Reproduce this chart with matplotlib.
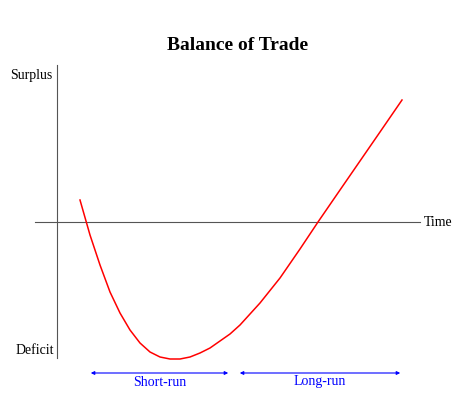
import matplotlib
matplotlib.use("Agg")
import matplotlib.pyplot as plt

# J-curve (pixel space: x right, y down)
curve_x = [80, 90, 100, 110, 120, 130, 140, 150, 160, 170, 180, 190, 200, 210, 220, 230, 240, 260, 280, 300, 318, 340, 360, 380, 402]
curve_y = [200, 235, 265, 292, 313, 330, 343, 352, 357, 359, 359, 357, 353, 348, 341, 334, 325, 303, 278, 249, 222, 190, 161, 132, 100]
labels = ["Surplus", "Deficit", "Time", "Short-run", "Long-run"]

plt.rcParams['font.family'] = ['Liberation Serif', 'DejaVu Serif']
fig = plt.figure(figsize=(4.74, 4.04), dpi=100)
ax = fig.add_axes([0, 0, 1, 1])
ax.set_xlim(0, 474)
ax.set_ylim(404, 0)
ax.axis('off')

ax.text(238, 45, "Balance of Trade", ha='center', va='center', fontsize=14, fontweight='bold')
ax.plot([57, 57], [65, 358], color='#555555', lw=0.8)
ax.plot([35, 420], [222, 222], color='#555555', lw=0.8)
ax.text(424, 223, labels[2], ha='left', va='center', fontsize=10)
ax.text(10, 76, labels[0], ha='left', va='center', fontsize=10)
ax.text(16, 351, labels[1], ha='left', va='center', fontsize=10)
ax.plot(curve_x, curve_y, color='red', lw=1.1)

for x0, x1, lab in [(88, 231, labels[3]), (237, 403, labels[4])]:
    ax.annotate('', xy=(x0, 373), xytext=(x1, 373),
                arrowprops=dict(arrowstyle='<|-|>', color='blue', lw=0.8, mutation_scale=5))
    ax.text((x0 + x1) / 2, 382, lab, ha='center', va='center', fontsize=10, color='blue')

fig.savefig("out.png", dpi=100)
